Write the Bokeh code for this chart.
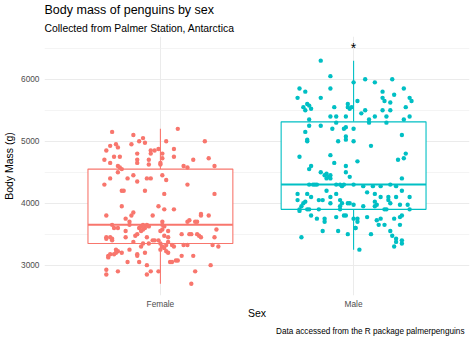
from bokeh.plotting import figure
from bokeh.models import Range1d, FixedTicker, Title
from bokeh.core.properties import value
from bokeh.embed import file_html
from bokeh.resources import INLINE

FONT = "Liberation Sans"

categories = ["Female", "Male"]
colors = ["#F8766D", "#00BFC4"]
cat_pos = [1, 2]

box_q1 = [3350, 3900]
box_median = [3650, 4300]
box_q3 = [4550, 5312.5]
whisker_low = [2700, 3250]
whisker_high = [5200, 6300]
box_width = 0.75

female_mass = [5200, 5150, 5100, 5050, 5000, 4975, 5000, 5000, 4925, 4950, 4900, 4950, 4850, 4800,
               4850, 4850, 4875, 4800, 4875, 4800, 4750, 4750, 4750, 4725, 4700, 4650, 4700, 4700,
               4650, 4625, 4725, 4650, 4625, 4700, 4600, 4575, 4550, 4600, 4575, 4600, 4500, 4450,
               4400, 4400, 4400, 4450, 4375, 4400, 4300, 4350, 4300, 4200, 4200, 4200, 4150, 4150,
               3950, 3950, 3900, 3900, 3850, 3800, 3800, 3800, 3750, 3700, 3700, 3725, 3700, 3700,
               3700, 3825, 3800, 3800, 3650, 3600, 3600, 3650, 3600, 3625, 3650, 3600, 3650, 3625,
               3650, 3625, 3575, 3575, 3550, 3550, 3500, 3475, 3550, 3550, 3500, 3500, 3500, 3500,
               3475, 3450, 3575, 3450, 3450, 3425, 3450, 3425, 3400, 3450, 3450, 3475, 3450, 3400,
               3400, 3400, 3350, 3300, 3275, 3325, 3325, 3300, 3375, 3350, 3350, 3300, 3375, 3325,
               3325, 3325, 3300, 3250, 3225, 3200, 3175, 3150, 3125, 3175, 3200, 3250, 3175, 3150,
               3200, 3250, 3225, 3200, 3050, 3050, 3075, 3075, 3150, 3150, 3000, 3050, 3050, 3000,
               2900, 2850, 2900, 2900, 2925, 2850, 2900, 2700]
female_jitter = [0.09, -0.25, -0.14, -0.09, -0.11, -0.08, 0.23, 0.03, -0.26, -0.23, -0.22, -0.15, -0.28, -0.12,
                 -0.05, -0.03, -0.01, -0.05, 0.07, 0.01, -0.24, -0.21, 0.07, 0.25, -0.29, -0.26, -0.06, -0.12,
                 -0.12, -0.06, 0.01, 0.00, 0.00, 0.17, -0.22, -0.21, -0.20, 0.12, 0.14, 0.28, -0.22, -0.14,
                 -0.17, -0.07, -0.05, 0.01, 0.03, -0.26, -0.29, -0.12, 0.14, -0.20, -0.19, -0.08, 0.02, 0.28,
                 -0.20, -0.01, 0.02, 0.07, -0.14, -0.15, -0.28, -0.04, -0.18, -0.16, 0.01, 0.15, 0.18, 0.19,
                 0.14, 0.21, 0.21, 0.25, -0.25, -0.24, -0.22, -0.16, -0.11, -0.10, -0.09, -0.08, -0.07, -0.06,
                 0.01, 0.02, 0.01, -0.09, -0.10, -0.18, -0.12, -0.13, 0.00, 0.04, 0.11, 0.15, 0.16, 0.19,
                 0.20, 0.21, 0.29, 0.28, -0.28, -0.28, -0.26, -0.25, -0.25, -0.18, -0.07, 0.02, 0.04, -0.04,
                 -0.03, -0.01, 0.00, 0.01, 0.02, 0.03, 0.06, 0.07, 0.04, -0.09, -0.06, -0.10, -0.14, 0.12,
                 0.14, 0.27, 0.30, -0.23, -0.22, -0.23, -0.26, -0.27, -0.27, -0.24, -0.20, -0.16, -0.12, -0.12,
                 -0.08, 0.00, 0.03, 0.04, 0.05, 0.06, 0.08, 0.09, 0.11, 0.17, 0.26, -0.17, -0.11, -0.07,
                 -0.05, -0.07, -0.01, -0.22, -0.28, -0.28, 0.18, 0.16]

male_mass = [6300, 6050, 5950, 6000, 5950, 6000, 5850, 5800, 5850, 5700, 5700, 5800, 5750, 5850,
             5700, 5650, 5625, 5700, 5650, 5600, 5575, 5550, 5500, 5525, 5550, 5600, 5550, 5525,
             5550, 5650, 5450, 5500, 5500, 5500, 5550, 5350, 5400, 5400, 5300, 5400, 5350, 5300,
             5400, 5400, 5300, 5400, 5350, 5250, 5250, 5200, 5225, 5200, 5200, 5150, 5025, 5000,
             5000, 5075, 5025, 5000, 4925, 5100, 4750, 4775, 4600, 4550, 4500, 4650, 4600, 4675,
             4700, 4725, 4800, 4450, 4475, 4450, 4400, 4425, 4500, 4425, 4400, 4400, 4300, 4300,
             4300, 4300, 4300, 4300, 4275, 4300, 4300, 4275, 4275, 4275, 4300, 4275, 4200, 4150,
             4150, 4050, 4025, 4100, 4200, 4150, 4100, 4050, 4000, 4000, 3975, 4175, 4150, 4025,
             3975, 4100, 4100, 4000, 4100, 4100, 3950, 3900, 4000, 3900, 3900, 4050, 4050, 4000,
             3950, 4000, 3950, 3950, 3900, 4050, 3975, 3975, 3900, 3875, 3800, 3900, 3750, 3750,
             3700, 3775, 3900, 3800, 3800, 3750, 3750, 3700, 3775, 3725, 3750, 3650, 3650, 3775,
             3800, 3900, 3650, 3750, 3550, 3550, 3500, 3600, 3600, 3500, 3550, 3475, 3425, 3400,
             3375, 3350, 3300, 3450, 3250]
male_jitter = [-0.17, -0.12, 0.00, 0.06, 0.11, 0.20, -0.28, -0.25, -0.12, -0.29, -0.17, 0.15, 0.21, 0.26,
               0.15, 0.16, 0.19, 0.29, 0.30, -0.24, -0.23, -0.26, -0.25, -0.22, -0.10, -0.03, -0.03, -0.02,
               -0.01, 0.02, 0.04, 0.06, 0.15, 0.19, 0.27, -0.23, -0.12, -0.09, -0.09, -0.04, 0.08, 0.08,
               0.11, 0.17, 0.17, 0.29, 0.26, -0.23, -0.17, -0.11, -0.04, -0.05, 0.00, -0.25, -0.24, -0.24,
               -0.08, -0.04, -0.04, 0.00, 0.09, 0.25, -0.28, -0.12, -0.22, -0.23, -0.17, -0.10, -0.04, 0.02,
               0.23, 0.26, 0.27, -0.15, -0.14, -0.12, -0.12, -0.13, -0.04, -0.02, -0.14, 0.25, -0.20, -0.21,
               -0.19, -0.23, -0.09, -0.07, -0.06, -0.05, 0.00, 0.05, 0.10, 0.14, 0.19, 0.22, 0.25, -0.29,
               -0.24, -0.29, -0.25, -0.22, -0.14, -0.09, -0.12, -0.07, -0.06, -0.02, 0.00, 0.07, 0.11, 0.11,
               0.12, 0.14, 0.18, 0.19, 0.22, 0.29, -0.27, -0.28, -0.26, -0.24, -0.23, -0.18, -0.16, -0.12,
               -0.07, -0.03, 0.05, 0.11, 0.16, 0.18, 0.24, 0.28, 0.29, -0.28, -0.22, -0.18, -0.19, -0.15,
               -0.15, -0.09, -0.07, -0.05, -0.04, 0.00, 0.02, 0.02, 0.07, 0.12, 0.14, 0.16, 0.13, 0.24,
               0.25, 0.17, 0.24, 0.21, -0.16, -0.08, -0.03, 0.01, 0.01, 0.09, 0.19, 0.20, 0.22, 0.25,
               0.22, 0.25, 0.21, -0.27, 0.03]

y_ticks = [3000, 4000, 5000, 6000]
y_minor_ticks = [3500, 4500, 5500, 6500]
star_y = 6500

title_text = "Body mass of penguins by sex"
subtitle_text = "Collected from Palmer Station, Antarctica"
caption_text = "Data accessed from the R package palmerpenguins"

p = figure(width=474, height=338, x_range=Range1d(0.4, 2.6), y_range=Range1d(2510, 6690),
           output_backend="svg", toolbar_location=None, title=None,
           min_border_left=40, min_border_right=5, min_border_top=0, min_border_bottom=0)
p.outline_line_color = None
p.background_fill_color = "white"
p.border_fill_color = "white"

# grid
p.xgrid.ticker = FixedTicker(ticks=cat_pos)
p.ygrid.ticker = FixedTicker(ticks=y_ticks, minor_ticks=y_minor_ticks)
p.xgrid.grid_line_color = "#EBEBEB"
p.ygrid.grid_line_color = "#EBEBEB"
p.xgrid.grid_line_width = 1
p.ygrid.grid_line_width = 1
p.ygrid.minor_grid_line_color = "#EFEFEF"
p.ygrid.minor_grid_line_width = 0.7

# axes
for ax in (p.xaxis[0], p.yaxis[0]):
    ax.axis_line_color = None
    ax.major_tick_line_color = None
    ax.minor_tick_line_color = None
    ax.major_tick_out = 0
    ax.major_tick_in = 0
    ax.minor_tick_out = 0
    ax.minor_tick_in = 0
    ax.major_label_text_font = FONT
    ax.major_label_text_font_size = "8.3px"
    ax.major_label_text_color = "#4D4D4D"
    ax.axis_label_text_font = FONT
    ax.axis_label_text_font_size = "10.5px"
    ax.axis_label_text_font_style = "normal"
    ax.axis_label_text_color = "black"

p.xaxis.ticker = FixedTicker(ticks=cat_pos)
p.xaxis.major_label_overrides = {1: categories[0], 2: categories[1]}
p.xaxis.axis_label = "Sex"
p.xaxis.major_label_standoff = 3
p.xaxis.axis_label_standoff = -5

p.yaxis.ticker = FixedTicker(ticks=y_ticks)
p.yaxis.axis_label = "Body Mass (g)"
p.yaxis.major_label_standoff = 5
p.yaxis.axis_label_standoff = 3

# whiskers
p.segment(x0=cat_pos, y0=box_q3, x1=cat_pos, y1=whisker_high, line_color=colors, line_width=1.1)
p.segment(x0=cat_pos, y0=box_q1, x1=cat_pos, y1=whisker_low, line_color=colors, line_width=1.1)
# boxes
p.vbar(x=cat_pos, width=box_width, top=box_q3, bottom=box_q1, fill_color="white",
       line_color=colors, line_width=1.1)
# medians
p.segment(x0=[c - box_width / 2 for c in cat_pos], y0=box_median,
          x1=[c + box_width / 2 for c in cat_pos], y1=box_median,
          line_color=colors, line_width=2)

# points
p.scatter(x=[cat_pos[0] + j for j in female_jitter], y=female_mass, size=4.4,
          fill_color=colors[0], line_color=None)
p.scatter(x=[cat_pos[1] + j for j in male_jitter], y=male_mass, size=4.4,
          fill_color=colors[1], line_color=None)

# significance star
p.text(x=[cat_pos[1]], y=[star_y], text=["*"], text_font=value(FONT), text_font_size="14px",
       text_align="center", text_baseline="middle", text_color="black")

sub = Title(text=subtitle_text, align="left", text_font=FONT, text_font_size="10.4px",
            text_font_style="normal", text_color="black", standoff=6)
main = Title(text=title_text, align="left", text_font=FONT, text_font_size="12.5px",
             text_font_style="normal", text_color="black", standoff=1)
p.add_layout(sub, "above")
p.add_layout(main, "above")

cap = Title(text=caption_text, align="right", text_font=FONT, text_font_size="8.2px",
            text_font_style="normal", text_color="black", standoff=6, offset=5)
p.add_layout(cap, "below")

open("out.html", "w").write(file_html(p, INLINE))
